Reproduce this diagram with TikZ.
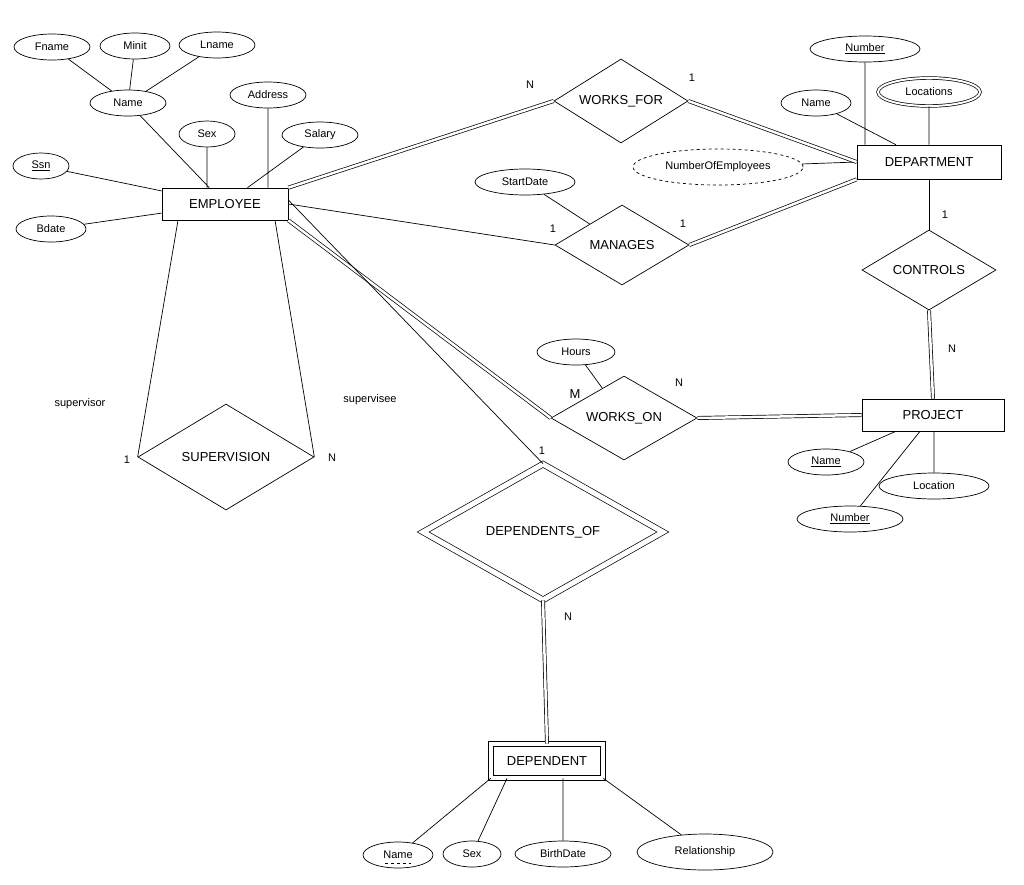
\documentclass[tikz,border=0pt]{standalone}
\usepackage{fontspec}
\setmainfont{Liberation Sans}
\usetikzlibrary{shapes.geometric}
\begin{document}
\begin{tikzpicture}[x=1pt,y=-1pt,
 attr/.style={draw,ellipse,minimum width=#1,minimum height=26pt,inner sep=1pt,font=\fontsize{11}{13}\selectfont},
 attr/.default=66pt,
 ent/.style={draw,rectangle,minimum height=32pt,inner sep=2pt,font=\fontsize{13}{15}\selectfont},
 rel/.style={draw,diamond,inner sep=0pt,aspect=1.6,font=\fontsize{13}{15}\selectfont},
 lbl/.style={font=\fontsize{11}{13}\selectfont},
 dbl/.style={double,double distance=2.5pt},
 line width=0.7pt]
\useasboundingbox (0,0) rectangle (1024,884);
% employee
\node[ent,minimum width=126pt] (emp) at (225,204) {EMPLOYEE};
\node[attr=76pt] (fname) at (52,47) {Fname};
\node[attr=70pt] (minit) at (135,46) {Minit};
\node[attr=76pt] (lname) at (217,45) {Lname};
\node[attr=76pt] (ename) at (128,103) {Name};
\node[attr=76pt] (addr) at (268,95) {Address};
\node[attr=56pt] (esex) at (207,134) {Sex};
\node[attr=76pt] (sal) at (320,135) {Salary};
\node[attr=56pt] (ssn) at (41,166) {\underline{Ssn}};
\node[attr=70pt] (bdate) at (51,229) {Bdate};
\draw (fname)--(ename) (minit)--(ename) (lname)--(ename);
\draw (ename)--(emp) (esex)--(esex|-emp.north) (addr.south)--(addr.south|-emp.north) (sal)--(emp) (ssn)--(emp) (bdate)--(emp);
% department
\node[ent,minimum width=144pt,minimum height=34pt] (dept) at (929,162) {DEPARTMENT};
\node[attr=110pt] (dnum) at (865,49) {\underline{Number}};
\node[attr=70pt] (dname) at (816,103) {Name};
\node[attr=102pt,double,double distance=2pt,minimum height=28pt] (loc) at (929,92) {Locations};
\node[attr=170pt,dashed,minimum height=36pt] (noe) at (718,167) {NumberOfEmployees};
\draw (dnum.south)--(dnum.south|-dept.north) (dname)--(dept) (loc.south)--(loc.south|-dept.north) (noe)--(dept.west);
% relationships
\node[rel,minimum width=134pt,minimum height=84pt] (wf) at (621,101) {WORKS\_FOR};
\node[rel,minimum width=134pt,minimum height=80pt] (man) at (622,245) {MANAGES};
\node[attr=100pt] (sd) at (525,182) {StartDate};
\node[rel,minimum width=134pt,minimum height=80pt] (ctl) at (929,270) {CONTROLS};
\node[rel,minimum width=146pt,minimum height=84pt] (won) at (624,418) {WORKS\_ON};
\node[attr=78pt] (hrs) at (576,352) {Hours};
\node[ent,minimum width=142pt] (proj) at (933,415) {PROJECT};
\node[attr=76pt] (pname) at (826,462) {\underline{Name}};
\node[attr=110pt] (ploc) at (934,486) {Location};
\node[attr=106pt] (pnum) at (850,519) {\underline{Number}};
\node[rel,minimum width=176pt,minimum height=106pt] (sup) at (226,457) {SUPERVISION};
\node[rel,minimum width=240pt,minimum height=136pt,double,double distance=5pt] (dof) at (543,532) {DEPENDENTS\_OF};
\node[ent,minimum width=112pt,minimum height=34pt,double,double distance=4pt] (dep) at (547,761) {DEPENDENT};
\node[attr=70pt] (dpname) at (398,855) {Name};
\draw[dashed] (385,863)--(411,863);
\node[attr=58pt] (dpsex) at (472,854) {Sex};
\node[attr=96pt] (bd) at (563,854) {BirthDate};
\node[attr=136pt,minimum height=36pt] (rs) at (705,852) {Relationship};
% connectors
\draw[dbl] (emp.north east)--(wf.west);
\draw[dbl] (wf.east)--(dept.west);
\draw (emp.east)--(man.west);
\draw[dbl] (man.east)--(dept.south west);
\draw (sd)--(man);
\draw (dept.south)--(ctl.north);
\draw[dbl] (ctl.south)--(proj.north);
\draw[dbl] (emp.south east)--(won.west);
\draw[dbl] (won.east)--(proj.west);
\draw (hrs)--(won);
\draw (pname)--(proj) (ploc.north)--(ploc.north|-proj.south) (pnum)--(proj);
\draw ([xshift=-47pt]emp.south)--(sup.west);
\draw ([xshift=50pt]emp.south)--(sup.east);
\draw ([yshift=4pt]emp.east)--(dof.north);
\draw[dbl] (dof.south)--(dep.north);
\draw (dep.south west)--(dpname) (dpsex)--([xshift=-40pt]dep.south) (bd)--(bd|-dep.south) (dep.south east)--(rs);
% labels
\node[lbl] at (530,85) {N};
\node[lbl] at (692,78) {1};
\node[lbl] at (553,229) {1};
\node[lbl] at (683,224) {1};
\node[lbl] at (945,215) {1};
\node[lbl] at (952,349) {N};
\node[lbl,font=\fontsize{13}{15}\selectfont] at (575,394) {M};
\node[lbl] at (679,383) {N};
\node[lbl] at (542,451) {1};
\node[lbl] at (568,617) {N};
\node[lbl] at (80,404) {supervisor};
\node[lbl] at (370,400) {supervisee};
\node[lbl] at (127,460) {1};
\node[lbl] at (332,458) {N};
\end{tikzpicture}
\end{document}
